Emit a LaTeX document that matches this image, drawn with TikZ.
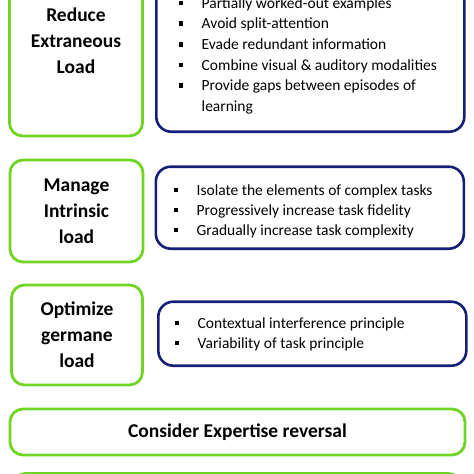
\documentclass[tikz,border=0pt]{standalone}
\usepackage{fontspec}
\setmainfont{Carlito}
\usetikzlibrary{positioning}
\definecolor{clgreen}{RGB}{112,212,36}
\definecolor{clnavy}{RGB}{22,30,120}
\newcommand{\sqbul}{\llap{\rule[3pt]{4.5pt}{4.5pt}\hspace{18.5pt}}}
\tikzset{
  loadbox/.style={draw=clgreen, line width=2.8pt, rounded corners=13pt, align=center, inner sep=0pt, font=\fontsize{19.5}{26}\selectfont\bfseries},
  listbox/.style={draw=clnavy, line width=2.6pt, rounded corners=15pt, inner sep=0pt},
  itemtext/.style={anchor=base west, inner sep=0pt, font=\fontsize{15.5}{20.6}\selectfont}
}
\begin{document}
\begin{tikzpicture}[x=1pt, y=-1pt]
    \useasboundingbox (0,0) rectangle (474,474);
    \clip (0,0) rectangle (474,474);
    % load boxes on the left
    \node[loadbox, minimum width=133pt, minimum height=190pt] (reduce) at (76,41) {Reduce\\Extraneous\\Load};
    \node[loadbox, minimum width=133pt, minimum height=102pt] (manage) at (76.5,211) {Manage\\Intrinsic\\load};
    \node[loadbox, minimum width=131pt, minimum height=100pt] (optimize) at (77,335) {Optimize\\germane\\load};
    \node[loadbox, minimum width=455pt, minimum height=46pt] (expertise) at (237.5,432) {Consider Expertise reversal};
    \node[loadbox, minimum width=448pt, minimum height=46pt, anchor=north] (next) at (237,472) {};
    % strategy lists on the right
    \node[listbox, minimum width=308pt, minimum height=173pt, anchor=south west] (rlist) at (155,133) {};
    \node[listbox, minimum width=308pt, minimum height=82pt, anchor=south west] (mlist) at (154.5,250) {};
    \node[listbox, minimum width=308pt, minimum height=64pt, anchor=south west] (olist) at (157,367) {};
    \foreach \t [count=\i] in {Partially worked-out examples, Avoid split-attention, Evade redundant information, Combine visual \& auditory modalities, Provide gaps between episodes of}
      {\node[itemtext] (r\i) at (201.5,8.3+20.6*\i-20.6) {\sqbul\t};}
    \node[itemtext] (r6) at (201.5,111.3) {learning};
    \foreach \t [count=\i] in {Isolate the elements of complex tasks, Progressively increase task fidelity, Gradually increase task complexity}
      {\node[itemtext] (m\i) at (196.5,195+20*\i-20) {\sqbul\t};}
    \foreach \t [count=\i] in {Contextual interference principle, Variability of task principle}
      {\node[itemtext] (o\i) at (197.5,328+20*\i-20) {\sqbul\t};}
\end{tikzpicture}
\end{document}
